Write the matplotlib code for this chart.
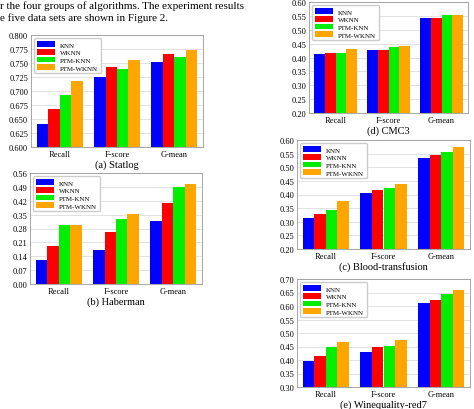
import matplotlib.pyplot as plt
import numpy as np

plt.rcParams['font.family'] = ['Liberation Serif', 'DejaVu Serif']

metrics = ['Recall', 'F-score', 'G-mean']
methods = ['KNN', 'WKNN', 'PTM-KNN', 'PTM-WKNN']
colors = ['#0000ff', '#ff0000', '#00ee00', '#ffa500']

statlog = [[0.641, 0.725, 0.751], [0.667, 0.742, 0.766], [0.692, 0.739, 0.760], [0.718, 0.756, 0.774]]
haberman = [[0.12, 0.17, 0.32], [0.19, 0.26, 0.41], [0.30, 0.33, 0.49], [0.30, 0.355, 0.505]]
cmc3 = [[0.411, 0.427, 0.543], [0.417, 0.427, 0.543], [0.417, 0.438, 0.553], [0.430, 0.442, 0.554]]
blood = [[0.312, 0.404, 0.534], [0.328, 0.416, 0.545], [0.344, 0.424, 0.555], [0.377, 0.437, 0.573]]
wine = [[0.398, 0.430, 0.610], [0.414, 0.450, 0.624], [0.450, 0.452, 0.644], [0.466, 0.474, 0.659]]

W, H = 474, 410
fig = plt.figure(figsize=(W / 100, H / 100), dpi=100)

def panel(px, data, yticks, caption, fmt):
    l, t, r, b = px
    ax = fig.add_axes([l / W, 1 - b / H, (r - l) / W, (b - t) / H])
    x = np.arange(3)
    w = 0.2
    for i, vals in enumerate(data):
        ax.bar(x + (i - 1.5) * w, vals, w, color=colors[i], label=methods[i], zorder=3)
    ax.set_xlim(-0.5, 2.5)
    ax.set_ylim(yticks[0], yticks[-1])
    ax.set_yticks(yticks)
    ax.set_yticklabels([fmt % v for v in yticks])
    ax.set_xticks(x)
    ax.set_xticklabels(metrics)
    ax.tick_params(labelsize=6, length=0, pad=2)
    ax.grid(axis='y', color='#dddddd', lw=0.6, zorder=0)
    for s in ax.spines.values():
        s.set_color('#999999')
        s.set_linewidth(0.6)
    ax.legend(loc='upper left', fontsize=5, handlelength=2.5, handleheight=0.9,
              labelspacing=0.2, borderpad=0.4, framealpha=1, edgecolor='#cccccc', fancybox=True)
    fig.text((l + r) / 2 / W, 1 - (b + 17) / H, caption, ha='center', va='center', fontsize=7.5)

panel((31, 36, 203, 148), statlog, np.arange(0.6, 0.8001, 0.025), '(a) Statlog', '%.3f')
panel((30, 174, 202, 285), haberman, np.arange(0, 0.5601, 0.07), '(b) Haberman', '%.2f')
panel((309, 3, 468, 114), cmc3, np.arange(0.2, 0.6001, 0.05), '(d) CMC3', '%.2f')
panel((297, 141, 470, 250), blood, np.arange(0.2, 0.6001, 0.05), '(c) Blood-transfusion', '%.2f')
panel((297, 280, 470, 388), wine, np.arange(0.3, 0.7001, 0.05), '(e) Winequality-red7', '%.2f')

fig.text(0.0, 1 - 6 / H, 'r the four groups of algorithms. The experiment results',
         ha='left', va='center', fontsize=8)
fig.text(0.0, 1 - 18 / H, 'e five data sets are shown in Figure 2.', ha='left', va='center', fontsize=8)

fig.savefig('out.png', dpi=100)
